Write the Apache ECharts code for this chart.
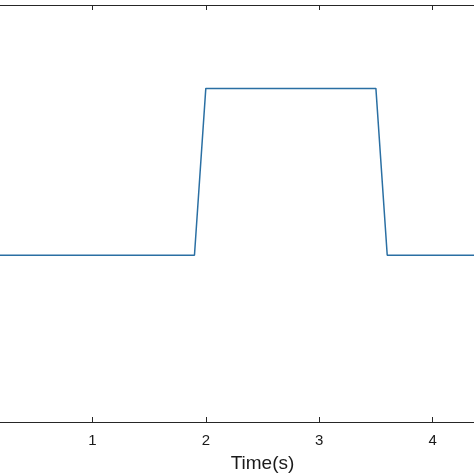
<!DOCTYPE html>
<html>
<head>
<meta charset="utf-8">
<script src="https://cdn.jsdelivr.net/npm/echarts@6/dist/echarts.min.js"></script>
<style>html,body{margin:0;padding:0;background:#fff;}#c{width:474px;height:474px;}</style>
</head>
<body>
<div id="c"></div>
<script>
const timeValues = [0, 1.9, 2.0, 3.5, 3.6, 5];
const signalValues = [0.4, 0.4, 0.8, 0.8, 0.4, 0.4];
const xTicks = [0, 1, 2, 3, 4, 5];
const xTitle = 'Time(s)';

const chart = echarts.init(document.getElementById('c'), null, {renderer: 'canvas'});
const axisColor = '#262626';
chart.setOption({
  animation: false,
  backgroundColor: '#ffffff',
  grid: {left: -21, right: -72, top: 5, bottom: 52, containLabel: false, outerBoundsMode: 'none'},
  xAxis: [{
    type: 'value', min: xTicks[0], max: xTicks[xTicks.length - 1], interval: 1,
    position: 'bottom',
    axisLine: {show: true, lineStyle: {color: axisColor, width: 1}},
    axisTick: {show: true, inside: true, length: 5, lineStyle: {color: axisColor}},
    axisLabel: {color: '#1a1a1a', fontSize: 15, margin: 11, fontFamily: 'Liberation Sans, Arial, sans-serif'},
    splitLine: {show: false},
    name: xTitle, nameLocation: 'middle', nameGap: 32,
    nameTextStyle: {color: '#1a1a1a', fontSize: 19, fontFamily: 'Liberation Sans, Arial, sans-serif'}
  }, {
    type: 'value', min: xTicks[0], max: xTicks[xTicks.length - 1], interval: 1,
    position: 'top',
    axisLine: {show: true, lineStyle: {color: axisColor, width: 1}},
    axisTick: {show: true, inside: true, length: 5, lineStyle: {color: axisColor}},
    axisLabel: {show: false},
    splitLine: {show: false}
  }],
  yAxis: [{
    type: 'value', min: 0, max: 1,
    axisLine: {show: false}, axisTick: {show: false}, axisLabel: {show: false}, splitLine: {show: false}
  }],
  series: [{
    type: 'line',
    data: timeValues.map((t, i) => [t, signalValues[i]]),
    showSymbol: false,
    lineStyle: {color: '#2a6fa3', width: 1.5},
    itemStyle: {color: '#2a6fa3'}
  }]
});
</script>
</body>
</html>
